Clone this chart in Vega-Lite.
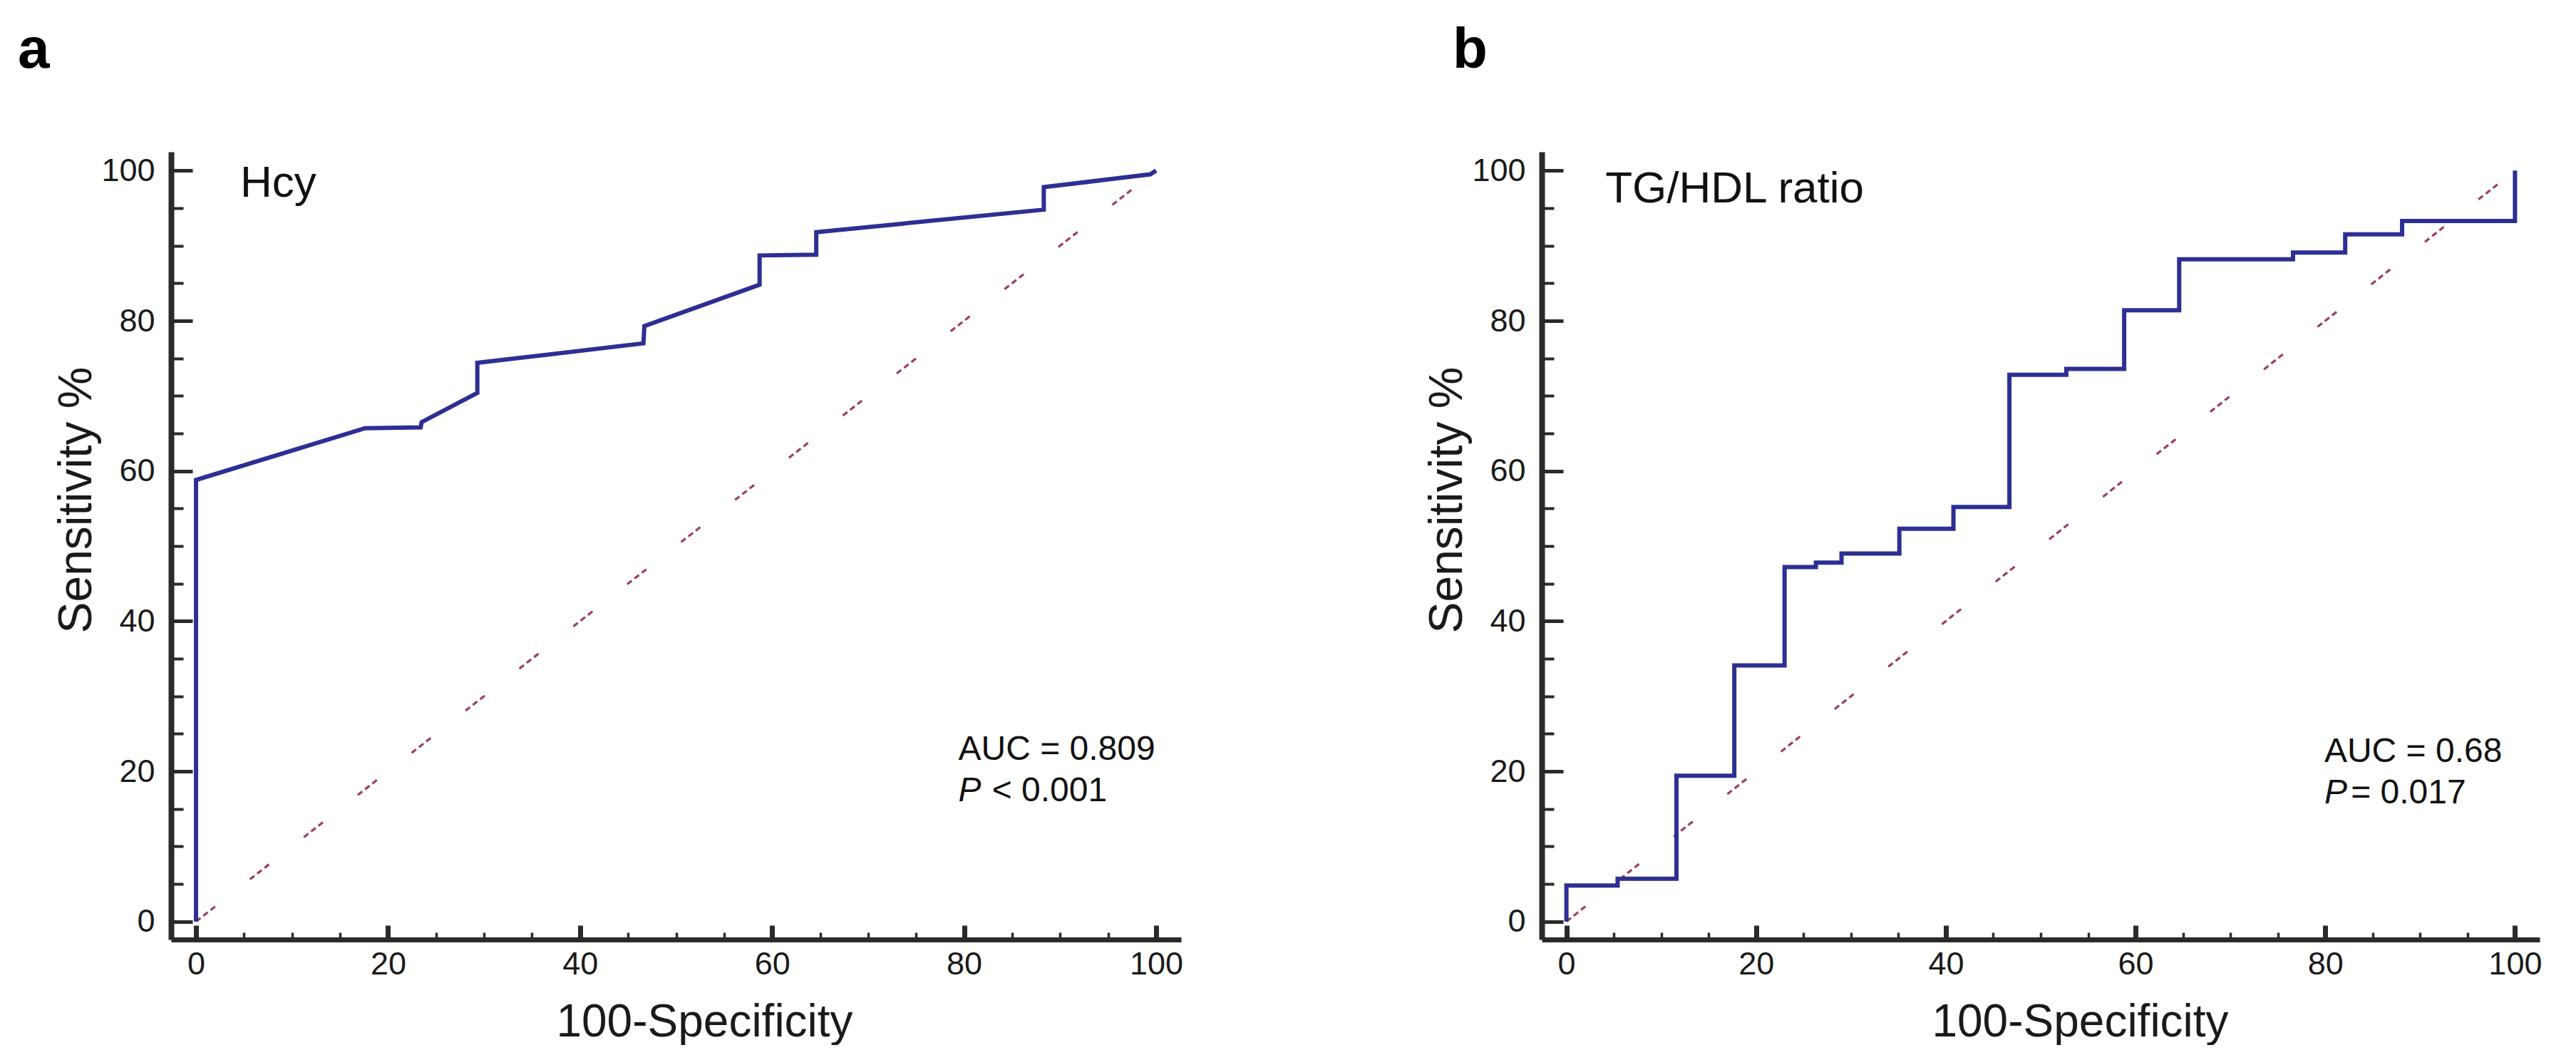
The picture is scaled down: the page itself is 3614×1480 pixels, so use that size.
{
  "$schema": "https://vega.github.io/schema/vega-lite/v6.json",
  "background": "white",
  "padding": {"left": 25, "top": 31, "right": 0, "bottom": 0},
  "autosize": {"type": "pad"},
  "config": {
    "view": {"stroke": null},
    "font": "Liberation Sans",
    "axis": {"grid": false, "labelFlush": false, "labelOverlap": false, "labelFont": "Liberation Sans", "titleFont": "Liberation Sans", "titleFontWeight": "normal", "labelColor": "#1a1a1a", "titleColor": "#1a1a1a", "tickColor": "#2a2a2a", "domainColor": "#2a2a2a"}
  },
  "spacing": 506,
  "bounds": "flush",
  "hconcat": [
    {
      "width": 1417,
      "height": 1105,
      "title": {"text": "a", "anchor": "start", "frame": "group", "dx": -215, "offset": 38, "baseline": "alphabetic", "fontSize": 80, "fontWeight": "bold", "font": "Liberation Sans", "color": "#000000"},
      "resolve": {"axis": {"x": "independent", "y": "independent"}},
      "layer": [
        {
          "data": {"values": [{"fpr": 0, "sens": 0}, {"fpr": 100, "sens": 100}]},
          "mark": {"type": "line", "color": "#9c3f5c", "strokeWidth": 3.2, "strokeDash": [8, 5, 8, 5, 8, 62]},
          "encoding": {
            "x": {"field": "fpr", "type": "quantitative", "scale": {"domain": [-2.6, 102.6], "nice": false, "zero": false},
                  "axis": {"orient": "bottom", "values": [5, 10, 15, 25, 30, 35, 45, 50, 55, 65, 70, 75, 85, 90, 95], "labels": false, "domain": false, "title": null, "tickSize": -10, "tickWidth": 3.5}},
            "y": {"field": "sens", "type": "quantitative", "scale": {"domain": [-2.4, 102.5], "nice": false, "zero": false},
                  "axis": {"orient": "left", "values": [5, 10, 15, 25, 30, 35, 45, 50, 55, 65, 70, 75, 85, 90, 95], "labels": false, "domain": false, "title": null, "tickSize": -17, "tickWidth": 4}}
          }
        },
        {
          "data": {"values": [
            {"step": 1, "fpr": 0, "sens": 0},
            {"step": 2, "fpr": 0, "sens": 58.8},
            {"step": 3, "fpr": 17.6, "sens": 65.7},
            {"step": 4, "fpr": 23.4, "sens": 65.8},
            {"step": 5, "fpr": 23.5, "sens": 66.5},
            {"step": 6, "fpr": 29.3, "sens": 70.4},
            {"step": 7, "fpr": 29.3, "sens": 74.4},
            {"step": 8, "fpr": 46.6, "sens": 77.0},
            {"step": 9, "fpr": 46.7, "sens": 79.3},
            {"step": 10, "fpr": 58.7, "sens": 84.8},
            {"step": 11, "fpr": 58.7, "sens": 88.7},
            {"step": 12, "fpr": 64.6, "sens": 88.8},
            {"step": 13, "fpr": 64.6, "sens": 91.8},
            {"step": 14, "fpr": 88.3, "sens": 94.8},
            {"step": 15, "fpr": 88.3, "sens": 97.8},
            {"step": 16, "fpr": 99.4, "sens": 99.5},
            {"step": 17, "fpr": 100, "sens": 100}
          ]},
          "mark": {"type": "line", "color": "#2d2f93", "strokeWidth": 6, "strokeJoin": "miter", "strokeCap": "butt"},
          "encoding": {
            "order": {"field": "step", "type": "quantitative"},
            "x": {"field": "fpr", "type": "quantitative", "scale": {"domain": [-2.6, 102.6], "nice": false, "zero": false},
                  "axis": {"orient": "bottom", "values": [0, 20, 40, 60, 80, 100], "title": "100-Specificity", "titleFontSize": 64, "titleX": 748, "titleY": 135, "titleBaseline": "alphabetic", "titleAlign": "center", "labelFontSize": 45, "labelPadding": 32, "tickSize": -20, "tickWidth": 7, "domainWidth": 7}},
            "y": {"field": "sens", "type": "quantitative", "scale": {"domain": [-2.4, 102.5], "nice": false, "zero": false},
                  "axis": {"orient": "left", "values": [0, 20, 40, 60, 80, 100], "title": "Sensitivity %", "titleFontSize": 66, "titleX": -113, "titleY": 488, "titleBaseline": "alphabetic", "titleAlign": "center", "titleAngle": -90, "labelFontSize": 45, "labelPadding": 53, "tickSize": -30, "tickWidth": 5, "domainWidth": 8}}
          }
        },
        {
          "data": {"values": [{"label": "Hcy"}]},
          "mark": {"type": "text", "align": "left", "baseline": "alphabetic", "fontSize": 62, "color": "#111111"},
          "encoding": {"text": {"field": "label"}, "x": {"datum": 4.6, "type": "quantitative", "axis": null}, "y": {"datum": 96.5, "type": "quantitative", "axis": null}}
        },
        {
          "data": {"values": [{"label": "AUC = 0.809"}]},
          "mark": {"type": "text", "align": "left", "baseline": "alphabetic", "fontSize": 48, "color": "#111111"},
          "encoding": {"text": {"field": "label"}, "x": {"datum": 79.4, "type": "quantitative", "axis": null}, "y": {"datum": 21.5, "type": "quantitative", "axis": null}}
        },
        {
          "data": {"values": [{"label": "P"}]},
          "mark": {"type": "text", "align": "left", "baseline": "alphabetic", "fontSize": 48, "fontStyle": "italic", "color": "#111111"},
          "encoding": {"text": {"field": "label"}, "x": {"datum": 79.4, "type": "quantitative", "axis": null}, "y": {"datum": 16.0, "type": "quantitative", "axis": null}}
        },
        {
          "data": {"values": [{"label": "< 0.001"}]},
          "mark": {"type": "text", "align": "left", "baseline": "alphabetic", "fontSize": 48, "color": "#111111"},
          "encoding": {"text": {"field": "label"}, "x": {"datum": 82.9, "type": "quantitative", "axis": null}, "y": {"datum": 16.0, "type": "quantitative", "axis": null}}
        }
      ]
    },
    {
      "width": 1400,
      "height": 1105,
      "title": {"text": "b", "anchor": "start", "frame": "group", "dx": -125, "offset": 38, "baseline": "alphabetic", "fontSize": 80, "fontWeight": "bold", "font": "Liberation Sans", "color": "#000000"},
      "resolve": {"axis": {"x": "independent", "y": "independent"}},
      "layer": [
        {
          "data": {"values": [{"fpr": 0, "sens": 0}, {"fpr": 100, "sens": 100}]},
          "mark": {"type": "line", "color": "#9c3f5c", "strokeWidth": 3.2, "strokeDash": [8, 5, 8, 5, 8, 62]},
          "encoding": {
            "x": {"field": "fpr", "type": "quantitative", "scale": {"domain": [-2.6, 102.6], "nice": false, "zero": false},
                  "axis": {"orient": "bottom", "values": [5, 10, 15, 25, 30, 35, 45, 50, 55, 65, 70, 75, 85, 90, 95], "labels": false, "domain": false, "title": null, "tickSize": -10, "tickWidth": 3.5}},
            "y": {"field": "sens", "type": "quantitative", "scale": {"domain": [-2.4, 102.5], "nice": false, "zero": false},
                  "axis": {"orient": "left", "values": [5, 10, 15, 25, 30, 35, 45, 50, 55, 65, 70, 75, 85, 90, 95], "labels": false, "domain": false, "title": null, "tickSize": -17, "tickWidth": 4}}
          }
        },
        {
          "data": {"values": [
            {"step": 1, "fpr": 0, "sens": 0},
            {"step": 2, "fpr": 0, "sens": 4.8},
            {"step": 3, "fpr": 5.4, "sens": 4.8},
            {"step": 4, "fpr": 5.4, "sens": 5.7},
            {"step": 5, "fpr": 11.6, "sens": 5.7},
            {"step": 6, "fpr": 11.6, "sens": 19.4},
            {"step": 7, "fpr": 17.7, "sens": 19.4},
            {"step": 8, "fpr": 17.7, "sens": 34.1},
            {"step": 9, "fpr": 23.0, "sens": 34.1},
            {"step": 10, "fpr": 23.0, "sens": 47.2},
            {"step": 11, "fpr": 26.3, "sens": 47.2},
            {"step": 12, "fpr": 26.3, "sens": 47.8},
            {"step": 13, "fpr": 29.0, "sens": 47.8},
            {"step": 14, "fpr": 29.0, "sens": 49.0},
            {"step": 15, "fpr": 35.1, "sens": 49.0},
            {"step": 16, "fpr": 35.1, "sens": 52.3},
            {"step": 17, "fpr": 40.8, "sens": 52.3},
            {"step": 18, "fpr": 40.8, "sens": 55.2},
            {"step": 19, "fpr": 46.7, "sens": 55.2},
            {"step": 20, "fpr": 46.7, "sens": 72.8},
            {"step": 21, "fpr": 52.7, "sens": 72.8},
            {"step": 22, "fpr": 52.7, "sens": 73.6},
            {"step": 23, "fpr": 58.8, "sens": 73.6},
            {"step": 24, "fpr": 58.8, "sens": 81.4},
            {"step": 25, "fpr": 64.6, "sens": 81.4},
            {"step": 26, "fpr": 64.6, "sens": 88.2},
            {"step": 27, "fpr": 76.6, "sens": 88.2},
            {"step": 28, "fpr": 76.6, "sens": 89.1},
            {"step": 29, "fpr": 82.1, "sens": 89.1},
            {"step": 30, "fpr": 82.1, "sens": 91.5},
            {"step": 31, "fpr": 88.1, "sens": 91.5},
            {"step": 32, "fpr": 88.1, "sens": 93.3},
            {"step": 33, "fpr": 100, "sens": 93.3},
            {"step": 34, "fpr": 100, "sens": 100}
          ]},
          "mark": {"type": "line", "color": "#2d2f93", "strokeWidth": 6, "strokeJoin": "miter", "strokeCap": "butt"},
          "encoding": {
            "order": {"field": "step", "type": "quantitative"},
            "x": {"field": "fpr", "type": "quantitative", "scale": {"domain": [-2.6, 102.6], "nice": false, "zero": false},
                  "axis": {"orient": "bottom", "values": [0, 20, 40, 60, 80, 100], "title": "100-Specificity", "titleFontSize": 64, "titleX": 755, "titleY": 135, "titleBaseline": "alphabetic", "titleAlign": "center", "labelFontSize": 45, "labelPadding": 32, "tickSize": -20, "tickWidth": 7, "domainWidth": 7}},
            "y": {"field": "sens", "type": "quantitative", "scale": {"domain": [-2.4, 102.5], "nice": false, "zero": false},
                  "axis": {"orient": "left", "values": [0, 20, 40, 60, 80, 100], "title": "Sensitivity %", "titleFontSize": 66, "titleX": -113, "titleY": 488, "titleBaseline": "alphabetic", "titleAlign": "center", "titleAngle": -90, "labelFontSize": 45, "labelPadding": 53, "tickSize": -30, "tickWidth": 5, "domainWidth": 8}}
          }
        },
        {
          "data": {"values": [{"label": "TG/HDL ratio"}]},
          "mark": {"type": "text", "align": "left", "baseline": "alphabetic", "fontSize": 62, "color": "#111111"},
          "encoding": {"text": {"field": "label"}, "x": {"datum": 4.1, "type": "quantitative", "axis": null}, "y": {"datum": 95.8, "type": "quantitative", "axis": null}}
        },
        {
          "data": {"values": [{"label": "AUC = 0.68"}]},
          "mark": {"type": "text", "align": "left", "baseline": "alphabetic", "fontSize": 48, "color": "#111111"},
          "encoding": {"text": {"field": "label"}, "x": {"datum": 79.9, "type": "quantitative", "axis": null}, "y": {"datum": 21.2, "type": "quantitative", "axis": null}}
        },
        {
          "data": {"values": [{"label": "P"}]},
          "mark": {"type": "text", "align": "left", "baseline": "alphabetic", "fontSize": 48, "fontStyle": "italic", "color": "#111111"},
          "encoding": {"text": {"field": "label"}, "x": {"datum": 79.9, "type": "quantitative", "axis": null}, "y": {"datum": 15.7, "type": "quantitative", "axis": null}}
        },
        {
          "data": {"values": [{"label": "= 0.017"}]},
          "mark": {"type": "text", "align": "left", "baseline": "alphabetic", "fontSize": 48, "color": "#111111"},
          "encoding": {"text": {"field": "label"}, "x": {"datum": 82.7, "type": "quantitative", "axis": null}, "y": {"datum": 15.7, "type": "quantitative", "axis": null}}
        }
      ]
    }
  ]
}
